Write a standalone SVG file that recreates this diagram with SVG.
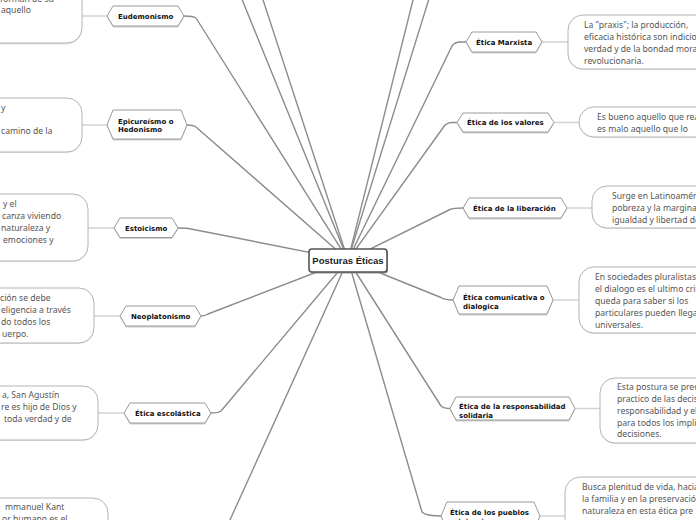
<svg xmlns="http://www.w3.org/2000/svg" width="696" height="520" viewBox="0 0 696 520">
<style>
.bg{fill:#ffffff}
.con{fill:none;stroke:#8c8c8c;stroke-width:1.4;stroke-linejoin:round;stroke-linecap:round}
.lnk{fill:none;stroke:#d2d2d2;stroke-width:1.5}
.leaf{fill:#ffffff;stroke:#b4b4b4;stroke-width:1}
.leafsh{fill:#e2e2e2}
.hex{fill:#ffffff;stroke:#9a9a9a;stroke-width:1}
.hexsh{fill:#cfcfcf}
.lt{font-family:"Noto Sans","Open Sans","DejaVu Sans",sans-serif;font-size:8.6px;fill:#555555}
.ht{font-family:"DejaVu Sans","Verdana",sans-serif;font-size:7px;font-weight:bold;fill:#111111}
.ct{font-family:"Liberation Sans",Arial,sans-serif;font-size:9.5px;font-weight:bold;fill:#222222}
</style>
<rect class="bg" x="0" y="0" width="696" height="520"/>

<g id="connectors">
<path class="con" d="M348 260 L196 18 Q193 16 184 16"/>
<path class="con" d="M348 260 L196 127 Q193 125 187 125"/>
<path class="con" d="M348 260 L191 229 Q187 228 178 228"/>
<path class="con" d="M348 260 L208 314 Q205 316 201 316"/>
<path class="con" d="M348 260 L221 411 Q218 413 211 413"/>
<path class="con" d="M348 260 L200 586"/>
<path class="con" d="M348 260 L226 -40"/>
<path class="con" d="M348 260 L250 -40"/>
<path class="con" d="M348 260 L423 -40"/>
<path class="con" d="M348 260 L441 -40"/>
<path class="con" d="M348 260 L452 46 Q455 42 460 42 L466 42"/>
<path class="con" d="M348 260 L445 125 Q448 122.5 452 122.5 L457 122.5"/>
<path class="con" d="M348 260 L450 209.5 Q453 208 463 208"/>
<path class="con" d="M348 260 L441 297.5 Q445 300 453 300"/>
<path class="con" d="M348 260 L441 406 Q444 408.5 450 408.5"/>
<path class="con" d="M348 260 L422 512 Q426 516 441 516"/>
<path class="lnk" d="M82 16 L107 16"/>
<path class="lnk" d="M82 125 L107 125"/>
<path class="lnk" d="M88 228 L114 228"/>
<path class="lnk" d="M94 316 L120 316"/>
<path class="lnk" d="M98 413 L124 413"/>
<path class="lnk" d="M542 42 L568 42"/>
<path class="lnk" d="M554 122.5 L579 122.5"/>
<path class="lnk" d="M567 208 L592 208"/>
<path class="lnk" d="M553 300 L579 300"/>
<path class="lnk" d="M575 408.5 L600 408.5"/>
<path class="lnk" d="M540 516 L565 516"/>
</g>

<g id="eudemonismo-leaf">
<rect class="leafsh" x="-120" y="-39" width="202" height="83.5" rx="15"/>
<rect class="leaf" x="-120" y="-40" width="202" height="83" rx="15"/>
<text class="lt" x="0" y="2">forman de su</text>
<text class="lt" x="1" y="13">aquello</text>
</g>
<g id="eudemonismo">
<polygon class="hexsh" points="107,17.5 113,7.5 178,7.5 184,17.5 178,27.5 113,27.5"/>
<polygon class="hex" points="107,16 113,6 178,6 184,16 178,26 113,26"/>
<text class="ht" x="118" y="18.5">Eudemonismo</text>
</g>

<g id="epicureismo-leaf">
<rect class="leafsh" x="-120" y="99" width="202" height="54" rx="15"/>
<rect class="leaf" x="-120" y="98" width="202" height="54" rx="15"/>
<text class="lt" x="1" y="111">y</text>
<text class="lt" x="1" y="134">camino de la</text>
</g>
<g id="epicureismo">
<polygon class="hexsh" points="107,126.5 113,111.5 181,111.5 187,126.5 181,140.5 113,140.5"/>
<polygon class="hex" points="107,125 113,110 181,110 187,125 181,139 113,139"/>
<text class="ht" x="118" y="123.5">Epicureísmo o</text>
<text class="ht" x="118" y="132">Hedonismo</text>
</g>

<g id="estoicismo-leaf">
<rect class="leafsh" x="-120" y="195" width="208" height="67" rx="15"/>
<rect class="leaf" x="-120" y="194" width="208" height="67" rx="15"/>
<text class="lt" x="3" y="207">y el</text>
<text class="lt" x="2" y="219">canza viviendo</text>
<text class="lt" x="1" y="231">naturaleza y</text>
<text class="lt" x="3" y="243">emociones y</text>
</g>
<g id="estoicismo">
<polygon class="hexsh" points="114,229.5 120,219.5 172,219.5 178,229.5 172,239 120,239"/>
<polygon class="hex" points="114,228 120,218 172,218 178,228 172,237.5 120,237.5"/>
<text class="ht" x="125" y="230.5">Estoicismo</text>
</g>

<g id="neoplatonismo-leaf">
<rect class="leafsh" x="-120" y="289" width="214" height="55" rx="15"/>
<rect class="leaf" x="-120" y="288" width="214" height="55" rx="15"/>
<text class="lt" x="0" y="301">ción se debe</text>
<text class="lt" x="1" y="313">eligencia a través</text>
<text class="lt" x="1" y="325">do todos los</text>
<text class="lt" x="2" y="337">uerpo.</text>
</g>
<g id="neoplatonismo">
<polygon class="hexsh" points="120,317.5 126,307.5 195,307.5 201,317.5 195,327.5 126,327.5"/>
<polygon class="hex" points="120,316 126,306 195,306 201,316 195,326 126,326"/>
<text class="ht" x="131" y="318.5">Neoplatonismo</text>
</g>

<g id="escolastica-leaf">
<rect class="leafsh" x="-120" y="387" width="218" height="54" rx="15"/>
<rect class="leaf" x="-120" y="386" width="218" height="54" rx="15"/>
<text class="lt" x="2" y="398">a, San Agustín</text>
<text class="lt" x="1" y="410">re es hijo de Dios y</text>
<text class="lt" x="4" y="422">toda verdad y de</text>
</g>
<g id="escolastica">
<polygon class="hexsh" points="124,414.5 130,404.5 205,404.5 211,414.5 205,424.5 130,424.5"/>
<polygon class="hex" points="124,413 130,403 205,403 211,413 205,423 130,423"/>
<text class="ht" x="135" y="415.5">Ética escolástica</text>
</g>

<g id="kant-leaf">
<rect class="leafsh" x="-120" y="499" width="228" height="80" rx="15"/>
<rect class="leaf" x="-120" y="498" width="228" height="80" rx="15"/>
<text class="lt" x="5" y="510">mmanuel Kant</text>
<text class="lt" x="2" y="522">or humano es el</text>
</g>

<g id="marxista">
<polygon class="hexsh" points="466,43.5 472,33.5 536,33.5 542,43.5 536,53.5 472,53.5"/>
<polygon class="hex" points="466,42 472,32 536,32 542,42 536,52 472,52"/>
<text class="ht" x="476" y="44.5">Ética Marxista</text>
</g>
<g id="marxista-leaf">
<rect class="leafsh" x="568" y="16" width="200" height="54" rx="15"/>
<rect class="leaf" x="568" y="15" width="200" height="54" rx="15"/>
<text class="lt" x="584" y="28">La "praxis"; la producción,</text>
<text class="lt" x="584" y="40">eficacia histórica son indicios</text>
<text class="lt" x="584" y="52">verdad y de la bondad moral</text>
<text class="lt" x="584" y="64">revolucionaria.</text>
</g>

<g id="valores">
<polygon class="hexsh" points="457,124 463,114.5 548,114.5 554,124 548,133.5 463,133.5"/>
<polygon class="hex" points="457,122.5 463,113 548,113 554,122.5 548,132 463,132"/>
<text class="ht" x="467" y="125">Ética de los valores</text>
</g>
<g id="valores-leaf">
<rect class="leafsh" x="579" y="108" width="200" height="30" rx="15"/>
<rect class="leaf" x="579" y="107" width="200" height="30" rx="15"/>
<text class="lt" x="597" y="120">Es bueno aquello que realiza</text>
<text class="lt" x="597" y="132">es malo aquello que lo</text>
</g>

<g id="liberacion">
<polygon class="hexsh" points="463,209.5 469,199.5 561,199.5 567,209.5 561,219.5 469,219.5"/>
<polygon class="hex" points="463,208 469,198 561,198 567,208 561,218 469,218"/>
<text class="ht" x="473" y="210.5">Ética de la liberación</text>
</g>
<g id="liberacion-leaf">
<rect class="leafsh" x="592" y="187" width="200" height="42" rx="15"/>
<rect class="leaf" x="592" y="186" width="200" height="42" rx="15"/>
<text class="lt" x="612" y="199">Surge en Latinoamérica</text>
<text class="lt" x="612" y="211">pobreza y la marginación</text>
<text class="lt" x="612" y="223">igualdad y libertad de</text>
</g>

<g id="comunicativa">
<polygon class="hexsh" points="453,301.5 459,287.5 547,287.5 553,301.5 547,315.5 459,315.5"/>
<polygon class="hex" points="453,300 459,286 547,286 553,300 547,314 459,314"/>
<text class="ht" x="463" y="299.5">Ética comunicativa o</text>
<text class="ht" x="463" y="308.5">dialogica</text>
</g>
<g id="comunicativa-leaf">
<rect class="leafsh" x="579" y="268" width="200" height="66" rx="15"/>
<rect class="leaf" x="579" y="267" width="200" height="66" rx="15"/>
<text class="lt" x="595" y="280">En sociedades pluralistas</text>
<text class="lt" x="595" y="292">el dialogo es el ultimo criterio</text>
<text class="lt" x="595" y="304">queda para saber si los</text>
<text class="lt" x="595" y="316">particulares pueden llegar</text>
<text class="lt" x="595" y="328">universales.</text>
</g>

<g id="responsabilidad">
<polygon class="hexsh" points="450,410 456,398.5 569,398.5 575,410 569,421.5 456,421.5"/>
<polygon class="hex" points="450,408.5 456,397 569,397 575,408.5 569,420 456,420"/>
<text class="ht" x="459" y="408.5">Ética de la responsabilidad</text>
<text class="ht" x="459" y="417.5">solidaria</text>
</g>
<g id="responsabilidad-leaf">
<rect class="leafsh" x="600" y="379" width="200" height="65" rx="15"/>
<rect class="leaf" x="600" y="378" width="200" height="65" rx="15"/>
<text class="lt" x="617" y="390">Esta postura se preocupa</text>
<text class="lt" x="617" y="402">practico de las decisiones</text>
<text class="lt" x="617" y="414">responsabilidad y el</text>
<text class="lt" x="617" y="426">para todos los implicados</text>
<text class="lt" x="617" y="437">decisiones.</text>
</g>

<g id="pueblos">
<polygon class="hexsh" points="441,517.5 447,503.5 534,503.5 540,517.5 534,531.5 447,531.5"/>
<polygon class="hex" points="441,516 447,502 534,502 540,516 534,530 447,530"/>
<text class="ht" x="450" y="514.5">Ética de los pueblos</text>
<text class="ht" x="450" y="523.5">originarios</text>
</g>
<g id="pueblos-leaf">
<rect class="leafsh" x="565" y="478" width="200" height="80" rx="15"/>
<rect class="leaf" x="565" y="477" width="200" height="80" rx="15"/>
<text class="lt" x="582" y="490">Busca plenitud de vida, hacia</text>
<text class="lt" x="582" y="502">la familia y en la preservación</text>
<text class="lt" x="582" y="514">naturaleza en esta ética pre</text>
</g>

<g id="center">
<rect x="310" y="250.5" width="78" height="23" rx="3" fill="#9a9a9a"/>
<rect x="309" y="249" width="78" height="23" rx="3" fill="#ffffff" stroke="#555555" stroke-width="1.6"/>
<text class="ct" x="348" y="264" text-anchor="middle">Posturas Éticas</text>
</g>
</svg>
